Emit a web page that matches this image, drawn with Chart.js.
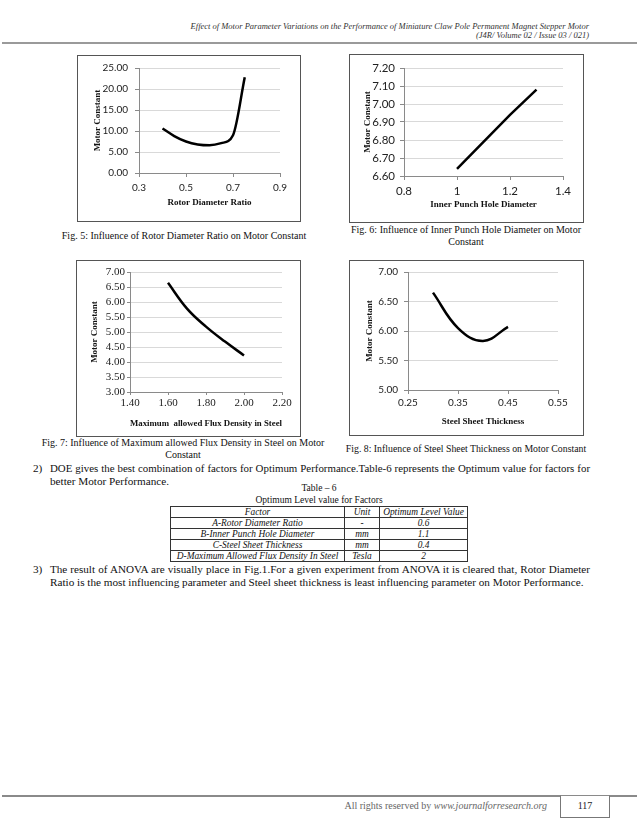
<!DOCTYPE html>
<html>
<head>
<meta charset="utf-8">
<script src="https://cdn.jsdelivr.net/npm/chart.js@4"></script>
<style>
  body { margin: 0; background: #fff; }
  #page { position: relative; width: 638px; height: 826px; overflow: hidden; font-family: "Liberation Serif", serif; color: #111; }
  .t { position: absolute; white-space: nowrap; line-height: 12px; }
  .c { transform: translateX(-50%); text-align: center; }
  .box { position: absolute; border: 1.5px solid #555; box-sizing: border-box; }
  canvas { position: absolute; }
  .para { position: absolute; left: 50px; width: 540px; font-size: 11.2px; line-height: 12px; white-space: nowrap; color: #111; }
  .just { text-align: justify; text-align-last: justify; }
  table { position: absolute; left: 170px; top: 506px; width: 298px; border-collapse: collapse; font-size: 9.4px; font-style: italic; color: #111; }
  td { border: 1px solid #333; height: 10px; padding: 0; line-height: 10px; text-align: center; }
</style>
</head>
<body>
<div id="page">
  <div class="t" style="right:49px;top:21px;font-size:8.5px;font-style:italic;color:#333;line-height:10px">Effect of Motor Parameter Variations on the Performance of Miniature Claw Pole Permanent Magnet Stepper Motor</div>
  <div class="t" style="right:49px;top:30px;font-size:8.5px;font-style:italic;color:#333;line-height:10px">(J4R/ Volume 02 / Issue 03 / 021)</div>
  <div style="position:absolute;left:2px;top:42px;width:635px;height:2px;background:#9a9a9a"></div>

  <div class="box" style="left:77px;top:55px;width:224px;height:167px"></div>
  <canvas id="c1" width="224" height="167" style="left:77px;top:55px"></canvas>
  <div class="box" style="left:349px;top:54px;width:235px;height:169px"></div>
  <canvas id="c2" width="235" height="169" style="left:349px;top:54px"></canvas>
  <div class="box" style="left:76px;top:260px;width:225px;height:177px"></div>
  <canvas id="c3" width="225" height="177" style="left:76px;top:260px"></canvas>
  <div class="box" style="left:349px;top:260px;width:235px;height:176px"></div>
  <canvas id="c4" width="235" height="176" style="left:349px;top:260px"></canvas>

  <div class="t c" style="left:184px;top:230px;font-size:10px">Fig. 5: Influence of Rotor Diameter Ratio on Motor Constant</div>
  <div class="t c" style="left:466px;top:224px;font-size:10px">Fig. 6: Influence of Inner Punch Hole Diameter on Motor<br>Constant</div>
  <div class="t c" style="left:183px;top:437px;font-size:10px">Fig. 7: Influence of Maximum allowed Flux Density in Steel on Motor<br>Constant</div>
  <div class="t c" style="left:466px;top:443px;font-size:9.8px">Fig. 8: Influence of Steel Sheet Thickness on Motor Constant</div>

  <div class="t" style="left:33px;top:462px;font-size:11.2px">2)</div>
  <div class="para just" style="top:462px">DOE gives the best combination of factors for Optimum Performance.Table-6 represents the Optimum value for factors for</div>
  <div class="para" style="top:475px">better Motor Performance.</div>
  <div class="t c" style="left:319px;top:482px;font-size:9.5px">Table – 6</div>
  <div class="t c" style="left:319px;top:494px;font-size:9.5px">Optimum Level value for Factors</div>
  <table>
    <tr><td style="width:173px">Factor</td><td style="width:34px">Unit</td><td>Optimum Level Value</td></tr>
    <tr><td>A-Rotor Diameter Ratio</td><td>-</td><td>0.6</td></tr>
    <tr><td>B-Inner Punch Hole Diameter</td><td>mm</td><td>1.1</td></tr>
    <tr><td>C-Steel Sheet Thickness</td><td>mm</td><td>0.4</td></tr>
    <tr><td>D-Maximum Allowed Flux Density In Steel</td><td>Tesla</td><td>2</td></tr>
  </table>
  <div class="t" style="left:33px;top:563px;font-size:11.2px">3)</div>
  <div class="para just" style="top:563px">The result of ANOVA are visually place in Fig.1.For a given experiment from ANOVA it is cleared that, Rotor Diameter</div>
  <div class="para" style="top:576px">Ratio is the most influencing parameter and Steel sheet thickness is least influencing parameter on Motor Performance.</div>

  <div style="position:absolute;left:2px;top:795px;width:558px;height:1.5px;background:#8a8a8a"></div>
  <div style="position:absolute;left:560px;top:795px;width:50px;height:23px;border:1px solid #777;border-top:1.5px solid #8a8a8a;box-sizing:border-box"></div>
  <div style="position:absolute;left:610px;top:795px;width:27px;height:1.5px;background:#8a8a8a"></div>
  <div class="t" style="right:91px;top:800px;font-size:10px;color:#666">All rights reserved by <i>www.journalforresearch.org</i></div>
  <div class="t c" style="left:585px;top:800px;font-size:10px;color:#222">117</div>
</div>

<script>
// justified one-line paragraphs: shrink the font if the line is too long, then let it stretch
document.querySelectorAll('.just').forEach(function (el) {
    var probe = document.createElement('span');
    probe.style.whiteSpace = 'nowrap';
    probe.textContent = el.textContent;
    el.textContent = '';
    el.appendChild(probe);
    var size = parseFloat(getComputedStyle(el).fontSize);
    var w = probe.getBoundingClientRect().width;
    if (w > 536) {
        size = size * 536 / w;
        el.style.fontSize = size + 'px';
    }
    el.textContent = probe.textContent;
    el.style.whiteSpace = 'normal';
});

// Fig. 5 - rotor diameter ratio
var rotorRatio = [0.4, 0.45, 0.5, 0.55, 0.6, 0.65, 0.7, 0.75];
var rotorConst = [10.6, 8.8, 7.5, 6.8, 6.6, 7.1, 9.0, 22.8];
// Fig. 6 - inner punch hole diameter
var punchDia = [1.0, 1.1, 1.2, 1.3];
var punchConst = [6.64, 6.79, 6.94, 7.08];
// Fig. 7 - max allowed flux density
var fluxDensity = [1.6, 1.7, 1.8, 1.9, 2.0];
var fluxConst = [6.64, 5.78, 5.18, 4.68, 4.22];
// Fig. 8 - steel sheet thickness
var sheetThick = [0.3, 0.35, 0.4, 0.45];
var sheetConst = [6.65, 6.05, 5.83, 6.07];

var titleFont = { family: "Liberation Serif", size: 9, weight: "bold" };
var lato10 = { family: "Lato", size: 10 };

function fixed(n) { return function (v) { return Number(v).toFixed(n); }; }
function plain(v) { return String(Number(Number(v).toFixed(2))); }

function lineChart(id, xs, ys, o) {
    var pts = xs.map(function (x, i) { return { x: x, y: ys[i] }; });
    return new Chart(document.getElementById(id), {
        type: 'line',
        data: {
            datasets: [{
                data: pts,
                borderColor: '#000',
                borderWidth: 2.5,
                pointRadius: 0,
                fill: false,
                tension: o.tension,
                cubicInterpolationMode: o.mode || 'default'
            }]
        },
        options: {
            responsive: false,
            animation: false,
            events: [],
            plugins: { legend: { display: false }, tooltip: { enabled: false } },
            layout: { padding: { left: 0, top: o.top, right: o.right, bottom: 0 } },
            scales: {
                x: {
                    type: 'linear',
                    min: o.xMin, max: o.xMax,
                    ticks: { stepSize: o.xStep, callback: o.xFmt, font: o.font, color: '#222', padding: o.xPad, maxRotation: 0, autoSkip: false },
                    grid: { drawOnChartArea: false, tickLength: o.tick, color: '#8a8a8a' },
                    border: { color: '#8a8a8a' },
                    title: { display: true, text: o.xTitle, font: titleFont, color: '#111', padding: { top: 0, bottom: o.xTitlePad } },
                    afterFit: function (s) { s.height = o.xH; }
                },
                y: {
                    min: o.yMin, max: o.yMax,
                    ticks: { stepSize: o.yStep, callback: o.yFmt, font: o.font, color: '#222', padding: o.yPad, autoSkip: false },
                    grid: { color: '#d9d9d9', tickColor: '#8a8a8a', tickLength: o.tick },
                    border: { color: '#8a8a8a' },
                    title: { display: true, text: 'Motor Constant', font: titleFont, color: '#111', padding: { top: o.yTitlePad, bottom: 0 } },
                    afterFit: function (s) { s.width = o.yW; }
                }
            }
        }
    });
}

lineChart('c1', rotorRatio, rotorConst, {
    tension: 0.4, mode: 'monotone', top: 13, right: 21, xH: 49, yW: 62,
    xMin: 0.3, xMax: 0.9, xStep: 0.2, xFmt: fixed(1),
    yMin: 0, yMax: 25, yStep: 5, yFmt: fixed(2),
    font: lato10, tick: 4, xPad: 5, yPad: 7,
    xTitle: 'Rotor Diameter Ratio', xTitlePad: 13.6, yTitlePad: 15.6
});

lineChart('c2', punchDia, punchConst, {
    tension: 0, top: 14, right: 21, xH: 47, yW: 55,
    xMin: 0.8, xMax: 1.4, xStep: 0.2, xFmt: plain,
    yMin: 6.6, yMax: 7.2, yStep: 0.1, yFmt: fixed(2),
    font: { family: "Lato", size: 11.5 }, tick: 4, xPad: 4, yPad: 5,
    xTitle: 'Inner Punch Hole Diameter', xTitlePad: 12.6, yTitlePad: 13.6
});

lineChart('c3', fluxDensity, fluxConst, {
    tension: 0.4, top: 12, right: 19, xH: 45, yW: 54,
    xMin: 1.4, xMax: 2.2, xStep: 0.2, xFmt: fixed(2),
    yMin: 3, yMax: 7, yStep: 0.5, yFmt: fixed(2),
    font: { family: "Liberation Serif", size: 11 }, tick: 3, xPad: 2, yPad: 2,
    xTitle: 'Maximum  allowed Flux Density in Steel', xTitlePad: 7.6, yTitlePad: 13.6
});

lineChart('c4', sheetThick, sheetConst, {
    tension: 0.4, top: 12, right: 26, xH: 46, yW: 59,
    xMin: 0.25, xMax: 0.55, xStep: 0.1, xFmt: fixed(2),
    yMin: 5, yMax: 7, yStep: 0.5, yFmt: fixed(2),
    font: lato10, tick: 4, xPad: 3, yPad: 6,
    xTitle: 'Steel Sheet Thickness', xTitlePad: 8.6, yTitlePad: 15.6
});
</script>
</body>
</html>
